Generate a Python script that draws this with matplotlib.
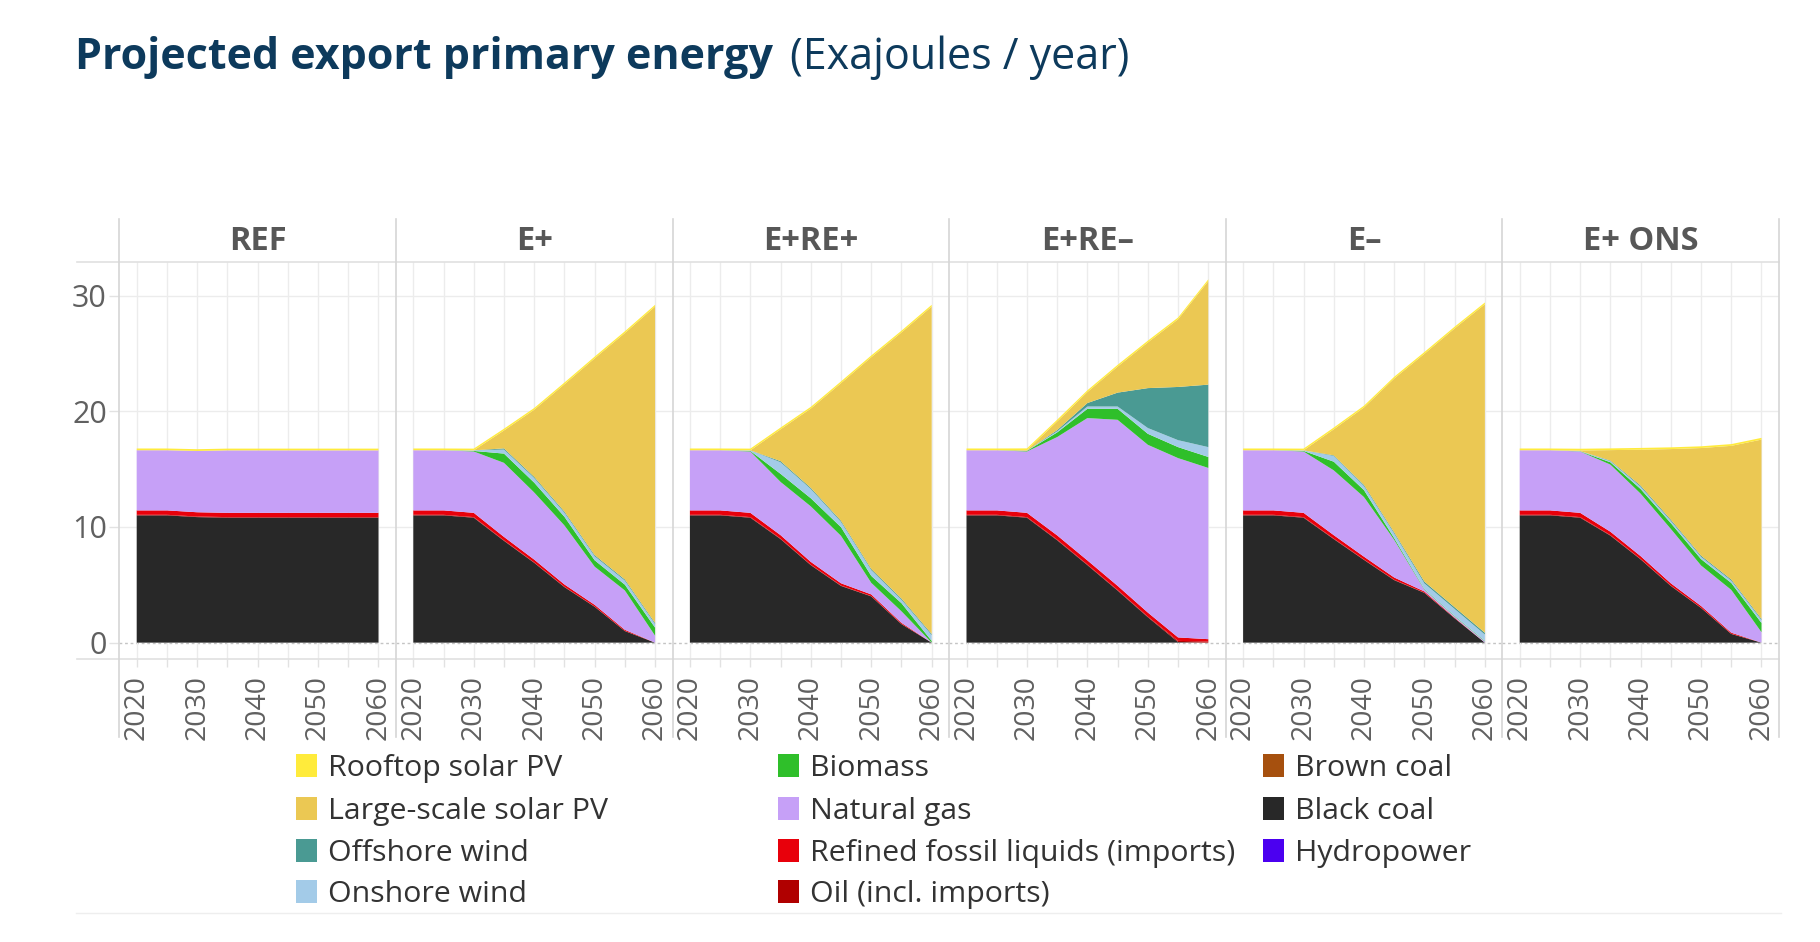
import matplotlib
matplotlib.use('Agg')
import matplotlib.pyplot as plt
from matplotlib import font_manager
from matplotlib.lines import Line2D
from matplotlib.patches import Rectangle
from matplotlib.ticker import FixedLocator

# ---------------- data ----------------
years = [2020, 2025, 2030, 2035, 2040, 2045, 2050, 2055, 2060]
scenarios = ['REF', 'E+', 'E+RE+', 'E+RE–', 'E–', 'E+ ONS']

hydropower = {s: [0, 0, 0, 0, 0, 0, 0, 0, 0] for s in scenarios}
brown_coal = {s: [0, 0, 0, 0, 0, 0, 0, 0, 0] for s in scenarios}

black_coal = {
    'REF':    [11.0, 11.0, 10.85, 10.8, 10.8, 10.8, 10.8, 10.8, 10.8],
    'E+':     [11.0, 11.0, 10.8, 8.8, 6.9, 4.8, 3.1, 1.0, 0.0],
    'E+RE+':  [11.0, 11.0, 10.8, 8.95, 6.7, 4.9, 4.0, 1.6, 0.0],
    'E+RE–':  [11.0, 11.0, 10.8, 8.85, 6.7, 4.5, 2.2, 0.05, 0.0],
    'E–':     [11.0, 11.0, 10.8, 8.95, 7.15, 5.4, 4.3, 2.1, 0.0],
    'E+ ONS': [11.0, 11.0, 10.8, 9.25, 7.2, 4.9, 3.0, 0.75, 0.0],
}
oil = {
    'REF':    [0.05, 0.05, 0.05, 0.05, 0.05, 0.05, 0.05, 0.05, 0.05],
    'E+':     [0.05, 0.05, 0.05, 0.04, 0.03, 0.03, 0.02, 0.01, 0.0],
    'E+RE+':  [0.05, 0.05, 0.05, 0.04, 0.03, 0.03, 0.02, 0.01, 0.0],
    'E+RE–':  [0.05, 0.05, 0.05, 0.05, 0.05, 0.05, 0.05, 0.1, 0.1],
    'E–':     [0.05, 0.05, 0.05, 0.04, 0.03, 0.03, 0.02, 0.01, 0.0],
    'E+ ONS': [0.05, 0.05, 0.05, 0.04, 0.03, 0.03, 0.02, 0.01, 0.0],
}
refined_liquids = {
    'REF':    [0.38, 0.38, 0.37, 0.37, 0.37, 0.37, 0.37, 0.37, 0.37],
    'E+':     [0.38, 0.38, 0.37, 0.3, 0.25, 0.2, 0.15, 0.1, 0.0],
    'E+RE+':  [0.38, 0.38, 0.37, 0.3, 0.25, 0.2, 0.15, 0.1, 0.0],
    'E+RE–':  [0.38, 0.38, 0.37, 0.37, 0.36, 0.36, 0.35, 0.3, 0.2],
    'E–':     [0.38, 0.38, 0.37, 0.3, 0.25, 0.2, 0.1, 0.05, 0.0],
    'E+ ONS': [0.38, 0.38, 0.37, 0.3, 0.25, 0.2, 0.15, 0.1, 0.0],
}
natural_gas = {
    'REF':    [5.2, 5.2, 5.3, 5.4, 5.4, 5.4, 5.4, 5.4, 5.4],
    'E+':     [5.2, 5.2, 5.3, 6.4, 5.8, 5.1, 3.3, 3.4, 0.6],
    'E+RE+':  [5.2, 5.2, 5.3, 4.6, 4.8, 4.1, 1.0, 1.0, 0.0],
    'E+RE–':  [5.2, 5.2, 5.3, 8.5, 12.3, 14.35, 14.5, 15.5, 14.8],
    'E–':     [5.2, 5.2, 5.3, 5.6, 5.15, 3.25, 0.15, 0.1, 0.1],
    'E+ ONS': [5.2, 5.2, 5.3, 5.8, 5.4, 4.7, 3.5, 3.7, 0.9],
}
biomass = {
    'REF':    [0, 0, 0, 0, 0, 0, 0, 0, 0],
    'E+':     [0, 0, 0.05, 0.8, 0.85, 0.75, 0.55, 0.5, 0.7],
    'E+RE+':  [0, 0, 0.05, 0.7, 0.7, 0.75, 0.6, 0.7, 0.15],
    'E+RE–':  [0, 0, 0.05, 0.4, 0.8, 0.95, 0.95, 0.95, 0.95],
    'E–':     [0, 0, 0.05, 0.75, 0.6, 0.15, 0.05, 0.05, 0.05],
    'E+ ONS': [0, 0, 0.02, 0.2, 0.4, 0.5, 0.55, 0.6, 0.8],
}
onshore_wind = {
    'REF':    [0, 0, 0, 0, 0, 0, 0, 0, 0],
    'E+':     [0, 0, 0.05, 0.35, 0.4, 0.35, 0.35, 0.35, 0.3],
    'E+RE+':  [0, 0, 0.05, 1.0, 0.8, 0.45, 0.5, 0.3, 0.5],
    'E+RE–':  [0, 0, 0.02, 0.1, 0.2, 0.2, 0.5, 0.6, 0.85],
    'E–':     [0, 0, 0.05, 0.5, 0.35, 0.4, 0.5, 0.6, 0.55],
    'E+ ONS': [0, 0, 0.02, 0.1, 0.2, 0.2, 0.2, 0.2, 0.25],
}
offshore_wind = {
    'REF':    [0, 0, 0, 0, 0, 0, 0, 0, 0],
    'E+':     [0, 0, 0, 0.1, 0.1, 0.1, 0.1, 0.1, 0.1],
    'E+RE+':  [0, 0, 0, 0.1, 0.1, 0.1, 0.1, 0.1, 0.1],
    'E+RE–':  [0, 0, 0, 0.1, 0.3, 1.2, 3.45, 4.6, 5.4],
    'E–':     [0, 0, 0, 0.05, 0.1, 0.1, 0.15, 0.15, 0.15],
    'E+ ONS': [0, 0, 0, 0.05, 0.1, 0.1, 0.1, 0.1, 0.1],
}
large_solar = {
    'REF':    [0, 0, 0, 0, 0, 0, 0, 0, 0],
    'E+':     [0, 0, 0, 1.55, 5.8, 11.0, 17.0, 21.3, 27.35],
    'E+RE+':  [0, 0, 0, 2.75, 6.85, 11.9, 18.3, 23.0, 28.3],
    'E+RE–':  [0, 0, 0.05, 0.75, 0.95, 2.25, 3.95, 5.85, 8.95],
    'E–':     [0, 0, 0, 2.25, 6.7, 13.3, 19.7, 24.1, 28.4],
    'E+ ONS': [0, 0, 0.05, 0.9, 3.1, 6.1, 9.3, 11.55, 15.5],
}
rooftop_solar = {s: [0.15, 0.15, 0.15, 0.15, 0.15, 0.15, 0.15, 0.15, 0.15] for s in scenarios}

# stacking order (bottom -> top)
stack_names = ['Hydropower', 'Black coal', 'Brown coal', 'Oil (incl. imports)',
               'Refined fossil liquids (imports)', 'Natural gas', 'Biomass',
               'Onshore wind', 'Offshore wind', 'Large-scale solar PV', 'Rooftop solar PV']
stack_data = [hydropower, black_coal, brown_coal, oil, refined_liquids, natural_gas,
              biomass, onshore_wind, offshore_wind, large_solar, rooftop_solar]
colors = {
    'Rooftop solar PV': '#FFEB3B',
    'Large-scale solar PV': '#EBC853',
    'Offshore wind': '#4A9A93',
    'Onshore wind': '#A3CBE8',
    'Biomass': '#2FBF2A',
    'Natural gas': '#C6A0F7',
    'Refined fossil liquids (imports)': '#E8000B',
    'Oil (incl. imports)': '#B00000',
    'Brown coal': '#A6500E',
    'Black coal': '#282828',
    'Hydropower': '#4B00F0',
}
legend_order = ['Rooftop solar PV', 'Large-scale solar PV', 'Offshore wind', 'Onshore wind',
                'Biomass', 'Natural gas', 'Refined fossil liquids (imports)', 'Oil (incl. imports)',
                'Brown coal', 'Black coal', 'Hydropower']
major_years = [2020, 2030, 2040, 2050, 2060]
minor_years = [2025, 2035, 2045, 2055]
y_ticks = [0, 10, 20, 30]

# ---------------- fonts ----------------
names = {f.name for f in font_manager.fontManager.ttflist}
if 'Liberation Sans Narrow' in names:
    fam = ['Liberation Sans Narrow', 'DejaVu Sans']
    k = 1.25
else:
    fam = ['Open Sans', 'DejaVu Sans']
    k = 1.0
plt.rcParams['font.family'] = fam

# ---------------- layout ----------------
W, H = 1820, 942
fig = plt.figure(figsize=(W / 100, H / 100), dpi=100)
fig.patch.set_facecolor('white')

x0, pw = 119.3, 276.6
ptop, pbot = 262.0, 659.3
strip_top = 219.0
lbl_bot = 737.0
grid_c = '#ececec'
frame_c = '#d6d6d6'
tick_c = '#606060'

def fx(px):
    return px / W

def fy(py):
    return 1 - py / H

for i, sc in enumerate(scenarios):
    left = x0 + i * pw
    ax = fig.add_axes([fx(left), fy(pbot), pw / W, (pbot - ptop) / H])
    ax.set_facecolor('white')
    for yv in y_ticks[1:]:
        ax.axhline(yv, color=grid_c, lw=1.0, zorder=0)
    ax.axhline(0, color='#c4c4c4', lw=1.0, ls=(0, (2, 2)), zorder=0)
    ax.stackplot(years, *[d[sc] for d in stack_data],
                 colors=[colors[n] for n in stack_names], linewidth=0, zorder=2)
    ax.set_xlim(2017.12, 2062.88)
    ax.set_ylim(-1.44, 32.9)
    ax.xaxis.set_major_locator(FixedLocator(major_years))
    ax.xaxis.set_minor_locator(FixedLocator(minor_years))
    ax.grid(axis='x', which='both', color=grid_c, lw=1.0, zorder=0)
    ax.set_axisbelow(True)
    ax.set_xticklabels([str(y) for y in major_years], rotation=90)
    ax.tick_params(axis='x', which='both', length=6, color='#e2e2e2', width=1.0)
    ax.tick_params(axis='x', which='major', labelsize=20.5 * k, labelcolor=tick_c, pad=5)
    ax.set_yticks(y_ticks)
    if i == 0:
        ax.tick_params(axis='y', length=7, color='#e2e2e2', width=1.0,
                       labelsize=22 * k, labelcolor=tick_c, pad=2)
    else:
        ax.tick_params(axis='y', left=False, labelleft=False)
    for sp in ax.spines.values():
        sp.set_visible(False)
    # strip label
    fig.text(fx(left + pw / 2), fy((strip_top + ptop) / 2 + 1), sc, ha='center', va='center',
             fontsize=23.5 * k, fontweight='bold', color='#575757')

# frame lines
for yy in (ptop, pbot):
    fig.add_artist(Line2D([fx(77), fx(x0 + 6 * pw)], [fy(yy), fy(yy)],
                          transform=fig.transFigure, color='#e0e0e0', lw=1.2))
for j in range(7):
    xx = x0 + j * pw
    fig.add_artist(Line2D([fx(xx), fx(xx)], [fy(strip_top), fy(lbl_bot)],
                          transform=fig.transFigure, color=frame_c, lw=1.2))
fig.add_artist(Line2D([fx(76), fx(1781)], [fy(913), fy(913)],
                      transform=fig.transFigure, color='#eeeeee', lw=1.0))

# title
title_c = '#0D3A5C'
t1 = fig.text(fx(75), fy(69), 'Projected export primary energy', ha='left', va='baseline',
              fontsize=31 * k, fontweight='bold', color=title_c)
renderer = fig.canvas.get_renderer()
bb = t1.get_window_extent(renderer=renderer)
fig.text(fx(bb.x1 + 17), fy(69), '(Exajoules / year)', ha='left', va='baseline',
         fontsize=31 * k, color=title_c)

# legend (manual grid of 3 columns x 4 rows)
col_x = [296, 778, 1263]
row_y = [765, 808, 850, 891]
for idx, name in enumerate(legend_order):
    c, r = idx // 4, idx % 4
    sx, cy = col_x[c], row_y[r]
    fig.add_artist(Rectangle((fx(sx), fy(cy + 11.5)), 21 / W, 23 / H,
                             transform=fig.transFigure, facecolor=colors[name],
                             edgecolor='none'))
    fig.text(fx(sx + 32), fy(cy), name, ha='left', va='center_baseline',
             fontsize=21.8 * k, color='#333333')

fig.savefig('out.png', dpi=100, facecolor='white')
